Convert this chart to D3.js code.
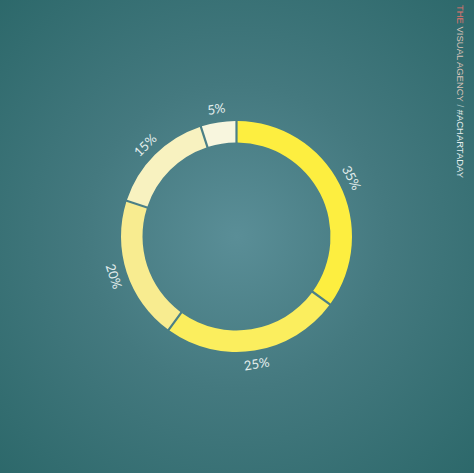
<!DOCTYPE html>
<html>
<head>
<meta charset="utf-8">
<script src="https://cdn.jsdelivr.net/npm/d3@7"></script>
<style>
  html, body { margin: 0; padding: 0; background: #316c70; }
  svg { display: block; }
</style>
</head>
<body>
<script>
const labels = ["35%", "25%", "20%", "15%", "5%"];
const values = [35, 25, 20, 15, 5];
const colors = ["#fdee40", "#fbee5e", "#f8ec90", "#f8f2c0", "#f8f6de"];

const W = 474, H = 473;
const cx = 236.5, cy = 236.5;
const outerR = 115.5, innerR = 94, labelR = 129;

const svg = d3.select("body").append("svg").attr("width", W).attr("height", H);
const defs = svg.append("defs");
const grad = defs.append("radialGradient").attr("id", "bg")
  .attr("gradientUnits", "userSpaceOnUse")
  .attr("cx", cx).attr("cy", cy).attr("r", 340);
grad.append("stop").attr("offset", "0%").attr("stop-color", "#5a8e97");
grad.append("stop").attr("offset", "45%").attr("stop-color", "#44797f");
grad.append("stop").attr("offset", "100%").attr("stop-color", "#2c686a");
svg.append("rect").attr("width", W).attr("height", H).attr("fill", "url(#bg)");

const pie = d3.pie().sort(null).value(d => d)(values);
const padR = 105;
const arc = d3.arc().innerRadius(innerR).outerRadius(outerR)
  .padAngle(2.2 / padR).padRadius(padR);

const g = svg.append("g").attr("transform", `translate(${cx},${cy})`);
g.selectAll("path").data(pie).join("path")
  .attr("d", arc)
  .attr("fill", (d, i) => colors[i]);

g.selectAll("text.lbl").data(pie).join("text")
  .attr("class", "lbl")
  .attr("transform", d => {
    const a = (d.startAngle + d.endAngle) / 2;
    const x = labelR * Math.sin(a), y = -labelR * Math.cos(a);
    let deg = a * 180 / Math.PI;
    if (deg > 90 && deg < 270) deg -= 180;
    else if (deg >= 270) deg -= 360;
    return `translate(${x},${y}) rotate(${deg})`;
  })
  .attr("text-anchor", "middle")
  .attr("dy", "0.35em")
  .attr("font-family", "Lato, 'Open Sans', sans-serif")
  .attr("font-size", 13)
  .attr("fill", "#e4efee")
  .text((d, i) => labels[i]);

const side = svg.append("text")
  .attr("transform", "translate(457,5) rotate(90)")
  .attr("font-family", "'Liberation Sans Narrow', 'Liberation Sans', sans-serif")
  .attr("font-size", 9.5)
  .attr("textLength", 173)
  .attr("lengthAdjust", "spacingAndGlyphs");
side.append("tspan").attr("fill", "#e0736c").text("THE ");
side.append("tspan").attr("fill", "#d9c2b8").text("VISUAL AGENCY ");
side.append("tspan").attr("fill", "#9fbcbc").text("/ ");
side.append("tspan").attr("fill", "#e6efee").text("#ACHARTADAY");
</script>
</body>
</html>
